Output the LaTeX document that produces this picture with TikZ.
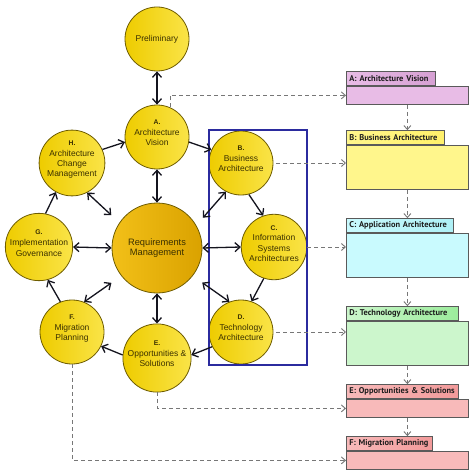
\documentclass[tikz,border=0pt]{standalone}
\usepackage{fontspec}
\setmainfont{Liberation Sans}
\newfontfamily\pkgfont{PT Sans}
\usetikzlibrary{arrows.meta,calc}
\definecolor{ylL}{HTML}{EECC00}
\definecolor{ylR}{HTML}{FAE448}
\definecolor{rqL}{HTML}{F2C018}
\definecolor{rqR}{HTML}{DAA200}
\definecolor{circbd}{HTML}{6E5C00}
\definecolor{txt}{HTML}{3A3000}
\definecolor{arr}{HTML}{14141E}
\definecolor{dsh}{HTML}{777777}
\definecolor{boxblue}{HTML}{2B2B9E}
\definecolor{pkbd}{HTML}{5A5A5A}
\definecolor{pktxt}{HTML}{1E1E1E}
\definecolor{paB}{HTML}{E8BCE6}\definecolor{paT}{HTML}{D6A0D3}
\definecolor{pbB}{HTML}{FFF68C}\definecolor{pbT}{HTML}{FFF06A}
\definecolor{pcB}{HTML}{C9FAFE}\definecolor{pcT}{HTML}{AEF0F6}
\definecolor{pdB}{HTML}{CCF6CC}\definecolor{pdT}{HTML}{9CEC9C}
\definecolor{peB}{HTML}{F8BABA}\definecolor{peT}{HTML}{F29A9A}
\newcommand\phid[1]{{\bfseries\fontsize{6.8}{8}\selectfont #1}}
\newcommand\lowpad[1]{\rule[-#1]{0pt}{#1}}
\begin{document}
\begin{tikzpicture}[x=1pt,y=-1pt,
 phase/.style={circle,draw=circbd,line width=0.8pt,minimum size=64pt,inner sep=0pt,
   left color=ylL,right color=ylR,align=center,
   font=\fontsize{8.5}{10.3}\selectfont,text=txt},
 req/.style={phase,minimum size=90pt,left color=rqL,right color=rqR,
   font=\fontsize{9.3}{10.5}\selectfont},
 tipa/.tip={Straight Barb[length=5pt,width=9pt]},
 flow/.style={line width=1.3pt,draw=arr,-tipa},
 both/.style={line width=1.3pt,draw=arr,tipa-tipa},
 trace/.style={dash pattern=on 4pt off 3pt,draw=dsh,line width=0.9pt,
   -{Straight Barb[length=4pt,width=7pt]}},
 body/.style={draw=pkbd,line width=0.8pt,minimum width=122pt,inner sep=0pt,anchor=north west},
 tabbox/.style={draw=pkbd,line width=0.8pt,minimum height=14pt,inner xsep=3pt,inner ysep=0pt,
   anchor=south west,align=left,text=pktxt,
   font=\pkgfont\bfseries\fontsize{8.4}{10}\selectfont},
 bluebox/.style={draw=boxblue,line width=1.2pt}
]
\fill[white] (0,0) rectangle (474,476);
\useasboundingbox (0,0) rectangle (474,476);

% phases
\node[phase] (P) at (157,39) {Preliminary};
\node[phase] (A) at (157,137) {\phid{A.}\\[1pt]Architecture\\Vision\lowpad{9pt}};
\node[phase] (H) at (72,163) {\phid{H.}\\Architecture\\Change\\Management\lowpad{8pt}};
\node[phase] (B) at (241,163) {\phid{B.}\\[1pt]Business\\Architecture\lowpad{9pt}};
\node[req] (R) at (157,248) {Requirements\\Management};
\node[phase] (G) at (39,247) {\phid{G.}\\[1pt]Implementation\\Governance\lowpad{8pt}};
\node[phase] (C) at (274,247) {\phid{C.}\\Information\\Systems\\Architectures\lowpad{7pt}};
\node[phase] (F) at (72,332) {\phid{F.}\\[1pt]Migration\\Planning\lowpad{9pt}};
\node[phase] (D) at (241,332) {\phid{D.}\\[1pt]Technology\\Architecture\lowpad{9pt}};
\node[phase] (E) at (157,358) {\phid{E.}\\[1pt]Opportunities \&\\Solutions\lowpad{9pt}};

% blue frame
\draw[bluebox] (209,130) rectangle (307,365);

% cycle connectors
\draw[both] (P) -- (A);
\draw[flow] (H.24) -- (A.189);
\draw[flow] (A.351) -- (B.156);
\draw[both] (A) -- (R);
\draw[both,shorten >=11pt] (H.297) -- (R.146);
\draw[both,shorten >=10pt] (B.242) -- (R.30);
\draw[flow] (B.284) -- (C.109);
\draw[both] (R.east) -- (C.west);
\draw[both] (G.east) -- (R.west);
\draw[flow] (C.252) -- (D.71);
\draw[both,shorten <=11.5pt] (R.322) -- (D.111);
\draw[flow] (D.207) -- (E.5);
\draw[both] (R) -- (E);
\draw[flow] (E.175) -- (F.334);
\draw[both,shorten >=12pt] (F.68) -- (R.218);
\draw[flow] (F.111) -- (G.285);
\draw[flow] (G.79) -- (H.241);

% packages
\node[body,minimum height=18pt,fill=paB] (pa) at (346,86) {};
\node[tabbox,text width=83pt,left color=paB,right color=paT] (ta) at (pa.north west) {A: Architecture Vision};
\node[body,minimum height=44pt,fill=pbB] (pb) at (346,145) {};
\node[tabbox,text width=92pt,left color=pbB,right color=pbT] (tb) at (pb.north west) {B: Business Architecture};
\node[body,minimum height=44pt,fill=pcB] (pc) at (346,233) {};
\node[tabbox,text width=101pt,left color=pcB,right color=pcT] (tc) at (pc.north west) {C: Application Architecture};
\node[body,minimum height=44pt,fill=pdB] (pd) at (346,321) {};
\node[tabbox,text width=106pt,left color=pdB,right color=pdT] (td) at (pd.north west) {D: Technology Architecture};
\node[body,minimum height=18pt,fill=peB] (pe) at (346,399) {};
\node[tabbox,text width=106pt,left color=peB,right color=peT] (te) at (pe.north west) {E: Opportunities \& Solutions};
\node[body,minimum height=18pt,fill=peB] (pf) at (346,451) {};
\node[tabbox,text width=80pt,left color=peB,right color=peT] (tf) at (pf.north west) {F: Migration Planning};

% traces
\draw[trace] (A.66) |- (pa.west);
\draw[trace,shorten <=3pt] (B.east) -- (B.east -| pb.west);
\draw[trace] (C.east) -- (C.east -| pc.west);
\draw[trace,shorten <=3pt] (D.east) -- (D.east -| pd.west);
\draw[trace] (E.south) |- (pe.west);
\draw[trace] (F.south) |- (pf.west);
\draw[trace] (pa.south) -- (pa.south |- tb.north);
\draw[trace] (pb.south) -- (pb.south |- tc.north);
\draw[trace] (pc.south) -- (pc.south |- td.north);
\draw[trace] (pd.south) -- (pd.south |- te.north);
\draw[trace] (pe.south) -- (pe.south |- tf.north);
\end{tikzpicture}
\end{document}
